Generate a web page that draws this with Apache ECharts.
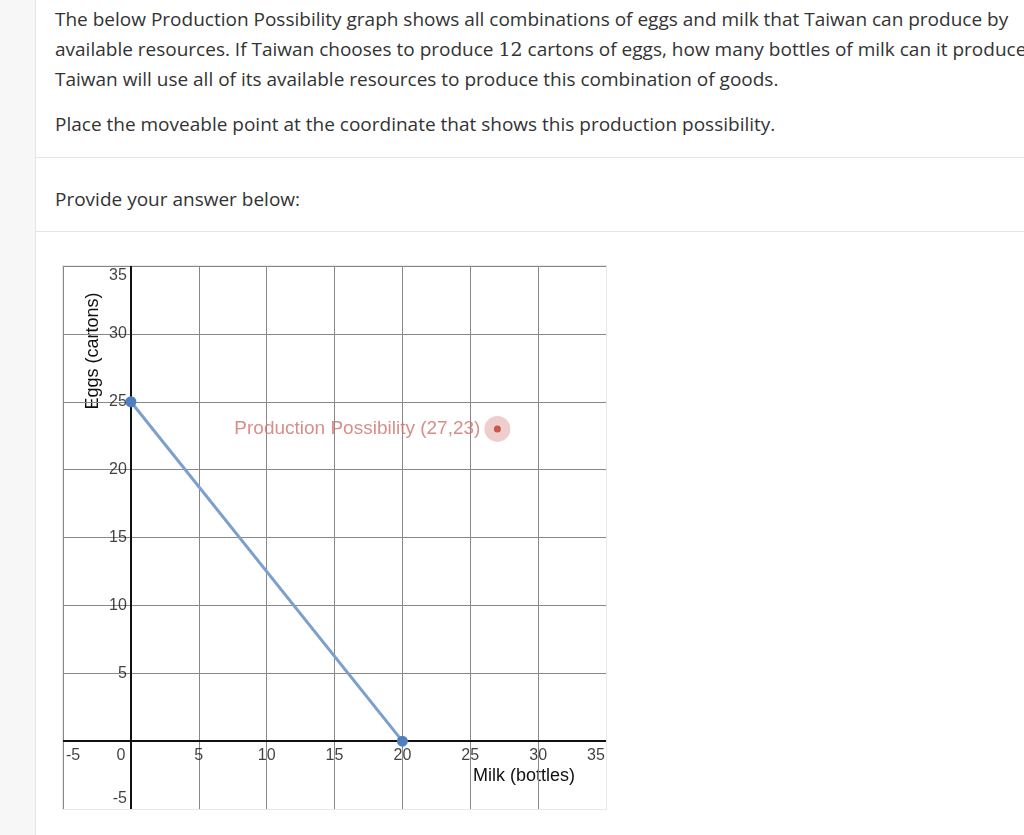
<!DOCTYPE html>
<html><head><meta charset="utf-8">
<script src="https://cdn.jsdelivr.net/npm/echarts@6/dist/echarts.min.js"></script>
<style>
body{margin:0;background:#fff;font-family:"Open Sans",sans-serif;color:#333;overflow:hidden}
.side{position:absolute;left:0;top:0;width:35px;height:835px;background:#f7f7f7;border-right:1px solid #e4e4e4}
.q{position:absolute;left:55px;top:4px;width:1100px;font-size:19px;line-height:30px;white-space:nowrap}
.hr{position:absolute;left:36px;right:0;height:1px;background:#e4e4e4}
#chart{position:absolute;left:62px;top:265px;width:545px;height:545px;box-sizing:border-box;border:1px solid #e8e8e8}
</style></head><body>
<div class="side"></div>
<div class="q">The below Production Possibility graph shows all combinations of eggs and milk that Taiwan can produce by<br>available resources. If Taiwan chooses to produce <span style="font-family:'DejaVu Serif',serif">12</span> cartons of eggs, how many bottles of milk can it produce<br>Taiwan will use all of its available resources to produce this combination of goods.</div>
<div class="q" style="top:109px">Place the moveable point at the coordinate that shows this production possibility.</div>
<div class="hr" style="top:157px"></div>
<div class="q" style="top:184px">Provide your answer below:</div>
<div class="hr" style="top:231px"></div>
<div id="chart"></div>
<script>
var ppfLine = [[0, 25], [20, 0]];
var movePoint = [[27, 23]];
var axisMin = -5, axisMax = 35, step = 5;
var xTickLabels = [-5, 0, 5, 10, 15, 20, 25, 30, 35];
var yTickLabels = [-5, 5, 10, 15, 20, 25, 30, 35];

function xLabelData() {
    return xTickLabels.map(function (v) {
        var off = [0, 0];
        if (v === -5) off = [10, 0];
        if (v === 0) off = [-10, 0];
        if (v === 35) off = [-10, 0];
        return {value: [v, 0], label: {offset: off}};
    });
}
function yLabelData() {
    return yTickLabels.map(function (v) {
        var off = [0, 0];
        if (v === -5) off = [0, -10];
        if (v === 35) off = [0, 10];
        return {value: [0, v], label: {offset: off}};
    });
}

var chart = echarts.init(document.getElementById('chart'));
var lbl = {color: '#111', fontFamily: 'Liberation Sans', fontSize: 16};
var gridAxis = {
    type: 'value', min: axisMin, max: axisMax, interval: step,
    axisLine: {onZero: true, lineStyle: {color: '#111', width: 2}},
    axisTick: {show: false}, axisLabel: {show: false},
    splitLine: {lineStyle: {color: '#888'}}
};
chart.setOption({
    animation: false,
    grid: {left: 0, right: 0, top: 0, bottom: 0, containLabel: false, outerBoundsMode: 'none'},
    xAxis: gridAxis,
    yAxis: gridAxis,
    graphic: [
        {type: 'text', left: 410, top: 501, style: {text: 'Milk (bottles)', fill: '#111', font: '18px "Liberation Sans"'}},
        {type: 'text', x: 30, y: 85, rotation: Math.PI / 2,
            style: {text: 'Eggs (cartons)', fill: '#111', font: '18px "Liberation Sans"', align: 'center', verticalAlign: 'middle'}}
    ],
    series: [
        {type: 'scatter', data: xLabelData(), symbolSize: 0, silent: true,
            label: Object.assign({show: true, position: 'bottom', distance: 6,
                formatter: function (p) { return p.value[0]; }}, lbl)},
        {type: 'scatter', data: yLabelData(), symbolSize: 0, silent: true,
            label: Object.assign({show: true, position: 'left', distance: 4,
                formatter: function (p) { return p.value[1]; }}, lbl)},
        {type: 'line', data: ppfLine, symbol: 'circle', symbolSize: 11,
            lineStyle: {color: '#7a9fd0', width: 3}, itemStyle: {color: '#4f7fc0'}},
        {type: 'scatter', data: movePoint, symbolSize: 26, itemStyle: {color: 'rgba(205,120,115,0.45)'},
            label: {show: true, position: 'left', distance: 4, formatter: 'Production Possibility (27,23)',
                color: '#d0706c', fontSize: 19, fontFamily: 'Liberation Sans'}},
        {type: 'scatter', data: movePoint, symbolSize: 7, itemStyle: {color: '#c0392b'}, z: 5}
    ]
});
</script>
</body></html>
